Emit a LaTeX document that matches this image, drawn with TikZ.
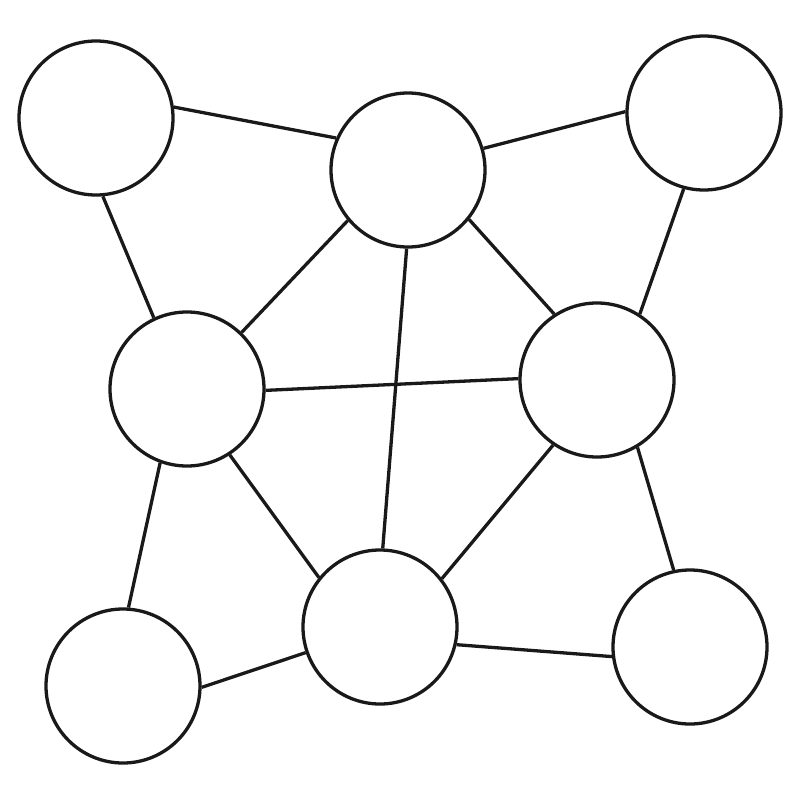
\documentclass[tikz,border=0pt]{standalone}
\begin{document}
\begin{tikzpicture}[x=1pt,y=-1pt,
  nd/.style={circle,draw=black!90,line width=3.3pt,minimum size=154pt,inner sep=0pt,fill=white},
  ln/.style={line width=3.3pt,draw=black!90}]
\useasboundingbox[fill=white] (0,0) rectangle (800,800);
\node[nd] (tl) at (96,118) {};
\node[nd] (tm) at (408,170) {};
\node[nd] (tr) at (704,113) {};
\node[nd] (ml) at (187,389) {};
\node[nd] (mr) at (597,380) {};
\node[nd] (bl) at (123,686) {};
\node[nd] (bm) at (380,627) {};
\node[nd] (br) at (690,647) {};
\draw[ln] (tl.8) -- (tm.156);
\draw[ln] (tm.16) -- (tr.179);
\draw[ln] (tl.-85) -- (ml.115);
\draw[ln] (tr.-105) -- (mr.57);
\draw[ln] (tm.-140) -- (ml.46);
\draw[ln] (tm.-39) -- (mr.123);
\draw[ln] (tm.-91) -- (bm.88);
\draw[ln] (ml.-1) -- (mr.179);
\draw[ln] (ml.-57) -- (bm.141);
\draw[ln] (mr.-124) -- (bm.38);
\draw[ln] (ml.-110) -- (bl.86);
\draw[ln] (mr.-59) -- (br.102);
\draw[ln] (bl.-1) -- (bm.-161);
\draw[ln] (bm.-13) -- (br.-173);
\end{tikzpicture}
\end{document}
